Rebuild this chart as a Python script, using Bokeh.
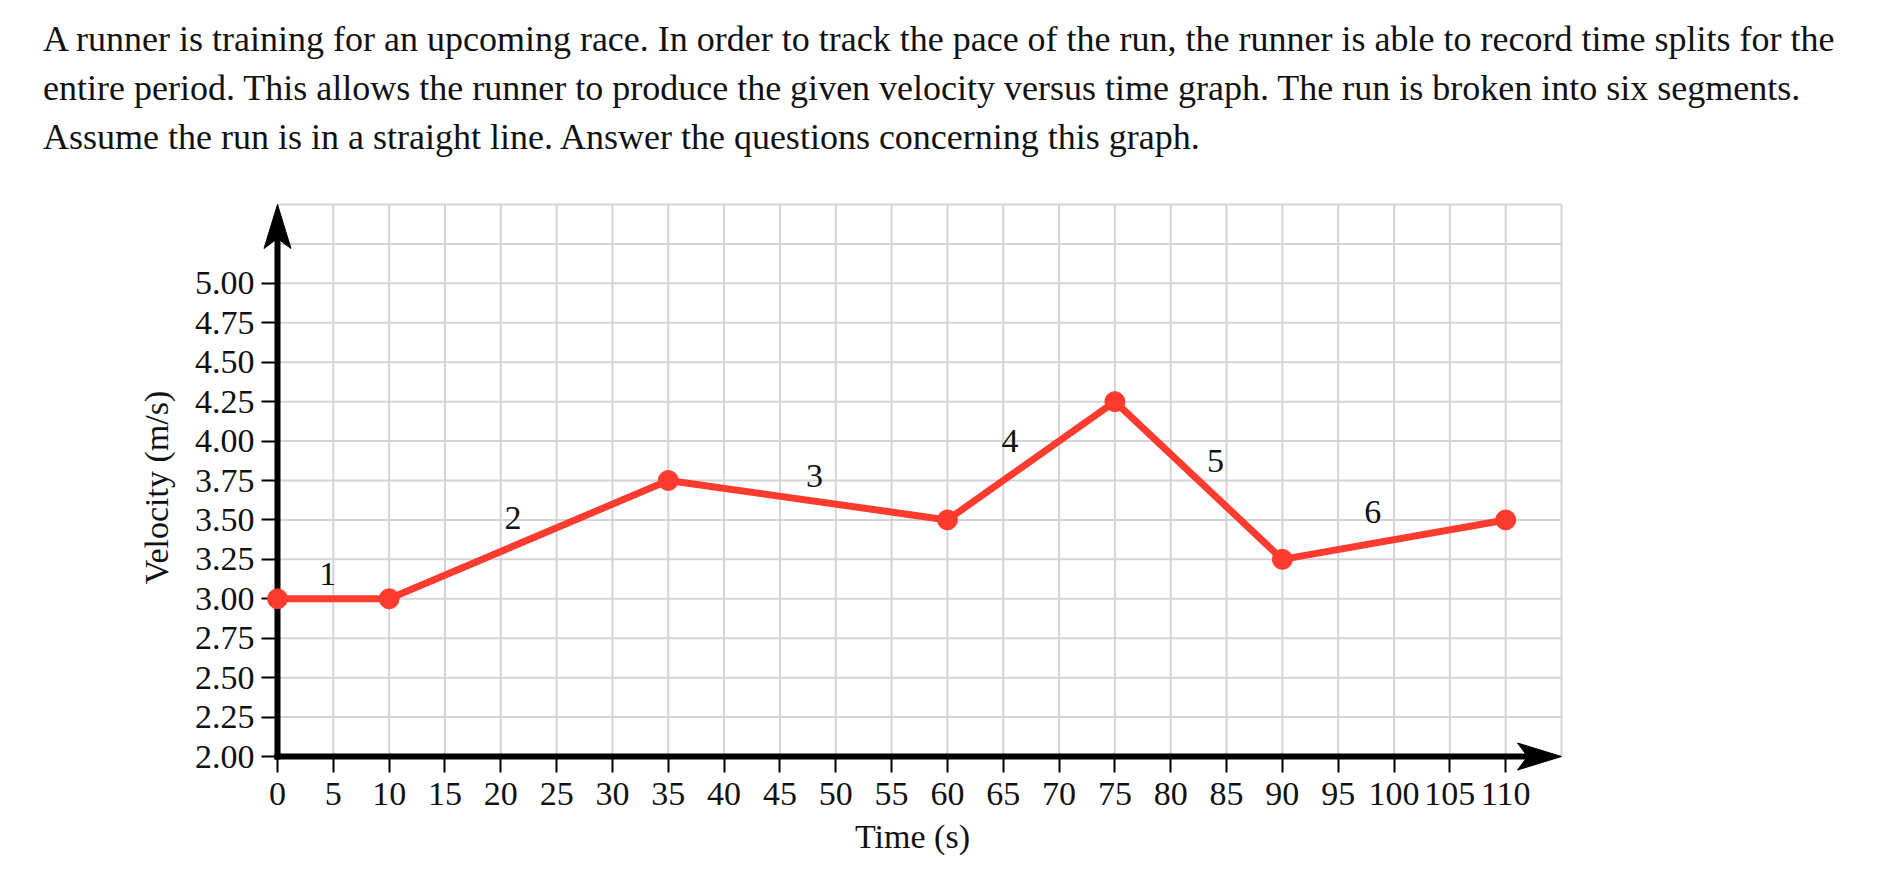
from bokeh.plotting import figure
from bokeh.models import Range1d, FixedTicker, NumeralTickFormatter, Div, ColumnDataSource
from bokeh.layouts import column
from bokeh.core.properties import value
from bokeh.embed import file_html
from bokeh.resources import INLINE

# data
time_s = [0, 10, 35, 60, 75, 90, 110]
velocity = [3.00, 3.00, 3.75, 3.50, 4.25, 3.25, 3.50]

segment_names = ["1", "2", "3", "4", "5", "6"]
segment_label_x = [4.5, 21.1, 48.1, 65.6, 84.0, 98.1]
segment_label_y = [3.155, 3.51, 3.78, 4.0, 3.875, 3.55]

x_ticks = [0, 5, 10, 15, 20, 25, 30, 35, 40, 45, 50, 55, 60, 65, 70, 75, 80, 85, 90, 95, 100, 105, 110]
y_ticks = [2.00, 2.25, 2.50, 2.75, 3.00, 3.25, 3.50, 3.75, 4.00, 4.25, 4.50, 4.75, 5.00]
grid_x = x_ticks + [115]
grid_y = y_ticks + [5.25, 5.50]

question = ("A runner is training for an upcoming race. In order to track the pace of the run, "
            "the runner is able to record time splits for the<br>entire period. This allows the runner "
            "to produce the given velocity versus time graph. The run is broken into six segments.<br>"
            "Assume the run is in a straight line. Answer the questions concerning this graph.")

SERIF = "Liberation Serif"
RED = "#ff3b2f"
GRID = "#d4d4d4"
INK = "#111111"

x_lo, x_hi = grid_x[0], grid_x[-1]
y_lo, y_hi = grid_y[0], grid_y[-1]

# the graph area is 1284 x 552 px; a small white margin keeps the axes and
# arrow heads inside the plotting frame
px_x = 1284 / (x_hi - x_lo)
px_y = 552 / (y_hi - y_lo)
pad_lo, pad_hi = 16, 2
frame_w = 1284 + pad_lo + pad_hi
frame_h = 552 + pad_lo + pad_hi
xr = Range1d(x_lo - pad_lo / px_x, x_hi + pad_hi / px_x)
yr = Range1d(y_lo - pad_lo / px_y, y_hi + pad_hi / px_y)

text_div = Div(
    text='<div style="font-family: \'%s\'; font-size: 36px; line-height: 49px; color: %s; '
         'padding: 10px 0 0 38px; white-space: nowrap;">%s</div>' % (SERIF, INK, question),
    width=1878, height=150)

p = figure(x_range=xr, y_range=yr, frame_width=frame_w, frame_height=frame_h,
           min_border_left=261, min_border_right=315, min_border_top=42, min_border_bottom=102,
           output_backend="svg", toolbar_location=None, tools="")
p.outline_line_color = None
p.xgrid.visible = False
p.ygrid.visible = False

# grid
p.segment(x0=grid_x, y0=[y_lo] * len(grid_x), x1=grid_x, y1=[y_hi] * len(grid_x),
          line_color=GRID, line_width=2)
p.segment(x0=[x_lo] * len(grid_y), y0=grid_y, x1=[x_hi] * len(grid_y), y1=grid_y,
          line_color=GRID, line_width=2)

# axis lines through the origin, ending under the arrow heads
p.segment(x0=[x_lo, x_lo - 3 / px_x], y0=[y_lo - 3 / px_y, y_lo],
          x1=[x_lo, x_hi - 3], y1=[y_hi - 0.2, y_lo],
          line_color="black", line_width=6)

head_len, head_half, notch = 44, 13.5, 34
p.patch(x=[x_lo, x_lo - head_half / px_x, x_lo, x_lo + head_half / px_x],
        y=[y_hi, y_hi - head_len / px_y, y_hi - notch / px_y, y_hi - head_len / px_y],
        fill_color="black", line_color="black", line_width=1)
p.patch(x=[x_hi, x_hi - head_len / px_x, x_hi - notch / px_x, x_hi - head_len / px_x],
        y=[y_lo, y_lo + head_half / px_y, y_lo, y_lo - head_half / px_y],
        fill_color="black", line_color="black", line_width=1)

# ticks and labels: ticks reach from the axis line out to the frame edge
for ax in (p.xaxis[0], p.yaxis[0]):
    ax.axis_line_color = None
    ax.major_tick_line_width = 2
    ax.major_tick_line_color = "black"
    ax.major_tick_in = pad_lo
    ax.major_tick_out = 0
    ax.minor_tick_line_color = None
    ax.major_label_text_font = SERIF
    ax.major_label_text_font_size = "34px"
    ax.major_label_text_color = INK
    ax.axis_label_text_font = SERIF
    ax.axis_label_text_font_style = "normal"
    ax.axis_label_text_font_size = "34px"
    ax.axis_label_text_color = INK

p.xaxis.ticker = FixedTicker(ticks=x_ticks)
p.xaxis.major_label_standoff = 10
p.xaxis.axis_label = "Time (s)"
p.xaxis.axis_label_standoff = 10

p.yaxis.ticker = FixedTicker(ticks=y_ticks)
p.yaxis.formatter = NumeralTickFormatter(format="0.00")
p.yaxis.major_label_standoff = 7
p.yaxis.axis_label = "Velocity (m/s)"
p.yaxis.axis_label_standoff = 17

# velocity polyline
src = ColumnDataSource(data=dict(t=time_s, v=velocity))
ln = p.line("t", "v", source=src, line_color=RED, line_width=7, line_join="round")
pts = p.scatter("t", "v", source=src, size=20, fill_color=RED, line_color=RED)
ln.level = "overlay"
pts.level = "overlay"

p.text(x=segment_label_x, y=segment_label_y, text=segment_names,
       text_font=value(SERIF), text_font_size="34px", text_color=INK,
       text_align="center", text_baseline="middle")

layout = column(text_div, p)
open("out.html", "w").write(file_html(layout, INLINE))
